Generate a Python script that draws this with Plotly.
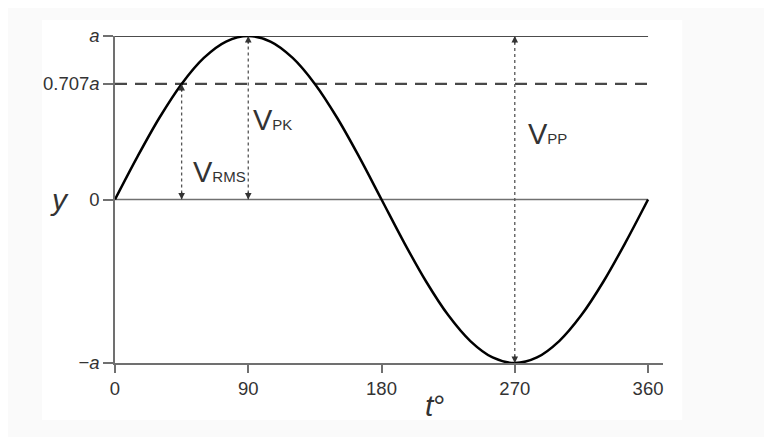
import plotly.graph_objects as go

# Sine curve values (y in units of a), read at 15-degree steps
t_deg = [0, 15, 30, 45, 60, 75, 90, 105, 120, 135, 150, 165, 180,
         195, 210, 225, 240, 255, 270, 285, 300, 315, 330, 345, 360]
y_val = [0, 0.259, 0.5, 0.707, 0.866, 0.966, 1, 0.966, 0.866, 0.707, 0.5, 0.259, 0,
         -0.259, -0.5, -0.707, -0.866, -0.966, -1, -0.966, -0.866, -0.707, -0.5, -0.259, 0]

# Reference levels
level_peak = 1.0
level_rms = 0.707
level_zero = 0.0

# Measurement arrows: x position, bottom, top
arrow_x = [45, 90, 270]
arrow_lo = [0, 0, -1]
arrow_hi = [0.707, 1, 1]
arrow_names = ["RMS", "PK", "PP"]

x_ticks = [0, 90, 180, 270, 360]
x_ticktext = ["0", "90", "180", "270", "360"]
y_ticks = [-1, 0, 0.707, 1]
y_ticktext = ["\u2212<i>a</i>", "0", "0.707<i>a</i>", "<i>a</i>"]

AX = "#707070"
TXT = "#333333"
FONT = "Liberation Sans, Arial, sans-serif"

fig = go.Figure()

# dotted measurement lines
for xv, lo, hi in zip(arrow_x, arrow_lo, arrow_hi):
    fig.add_trace(go.Scatter(x=[xv, xv], y=[lo, hi], mode="lines",
                             line=dict(color="#555555", width=1.3, dash="dot"),
                             hoverinfo="skip", showlegend=False, cliponaxis=False))

# sine curve
fig.add_trace(go.Scatter(x=t_deg, y=y_val, mode="lines", line_shape="spline",
                         line=dict(color="black", width=2.5),
                         hoverinfo="skip", showlegend=False, cliponaxis=False))

shapes = [
    # white card behind the chart
    dict(type="rect", xref="paper", yref="paper", x0=-0.133, x1=1.035, y0=-0.174, y1=1.049,
         fillcolor="white", line=dict(width=0), layer="below"),
    dict(type="line", xref="x", yref="y", x0=0, x1=360, y0=level_peak, y1=level_peak,
         line=dict(color="#111111", width=1.5), layer="below"),
    dict(type="line", xref="x", yref="y", x0=0, x1=360, y0=level_rms, y1=level_rms,
         line=dict(color="#484848", width=2.2, dash="12px,8px"), layer="below"),
    dict(type="line", xref="x", yref="y", x0=0, x1=360, y0=level_zero, y1=level_zero,
         line=dict(color=AX, width=1.5), layer="below"),
]

annotations = []
# arrowheads
for xv, lo, hi in zip(arrow_x, arrow_lo, arrow_hi):
    annotations.append(dict(x=xv, y=hi, xref="x", yref="y", ax=0, ay=9, text="",
                            showarrow=True, arrowhead=2, arrowsize=1.1, arrowwidth=1.2,
                            arrowcolor="#333333"))
    annotations.append(dict(x=xv, y=lo, xref="x", yref="y", ax=0, ay=-9, text="",
                            showarrow=True, arrowhead=2, arrowsize=1.1, arrowwidth=1.2,
                            arrowcolor="#333333"))

label_pos = {"RMS": (51, 0.17), "PK": (92, 0.485), "PP": (277.5, 0.40)}
for name in arrow_names:
    lx, ly = label_pos[name]
    annotations.append(dict(x=lx, y=ly, xref="x", yref="y", xanchor="left", yanchor="middle",
                            showarrow=False,
                            text="V<span style='font-size:15px'>%s</span>" % name,
                            font=dict(family=FONT, size=29, color=TXT)))

# axis titles
annotations.append(dict(x=-0.102, y=0, xref="paper", yref="y", xanchor="center", yanchor="middle",
                        text="<i>y</i>", showarrow=False,
                        font=dict(family=FONT, size=30, color=TXT)))
annotations.append(dict(x=216, y=-0.13, xref="x", yref="paper", xanchor="center", yanchor="middle",
                        text="<i>t</i>°", showarrow=False,
                        font=dict(family=FONT, size=30, color=TXT)))

fig.update_layout(
    width=764, height=429,
    margin=dict(l=107, r=109, t=28, b=74),
    paper_bgcolor="#fafafa", plot_bgcolor="white",
    shapes=shapes, annotations=annotations,
    showlegend=False,
    xaxis=dict(range=[0, 370.1], showgrid=False, zeroline=False, showline=True,
               linecolor=AX, linewidth=1.5, ticks="outside", ticklen=8, tickwidth=1.5,
               tickcolor=AX, tickvals=x_ticks, ticktext=x_ticktext,
               tickfont=dict(family=FONT, size=18.5, color=TXT), fixedrange=True),
    yaxis=dict(range=[-1, 1], showgrid=False, zeroline=False, showline=True,
               linecolor=AX, linewidth=1.5, ticks="outside", ticklen=10, tickwidth=1.5,
               tickcolor=AX, tickvals=y_ticks, ticktext=y_ticktext,
               tickfont=dict(family=FONT, size=18.5, color=TXT), fixedrange=True),
)

fig.write_html("out.html")
